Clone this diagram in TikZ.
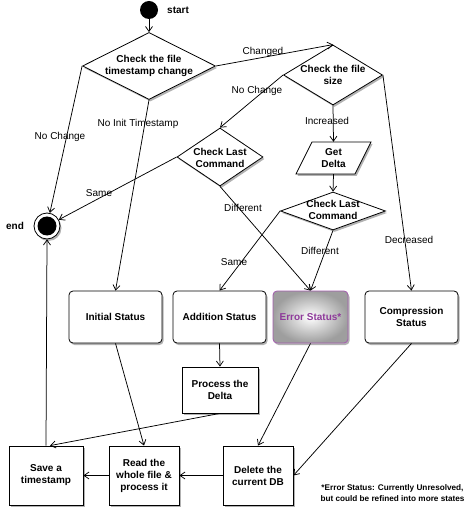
\documentclass[tikz,border=0pt]{standalone}
\usepackage{fontspec}
\setmainfont{Liberation Sans}
\usetikzlibrary{shapes.geometric,arrows.meta,shadows}
\definecolor{errline}{HTML}{A35BAE}
\definecolor{errtext}{HTML}{8E3A9A}
\begin{document}
\begin{tikzpicture}[x=1pt,y=-1pt,
  every node/.style={font=\fontsize{10}{12}\selectfont},
  lbl/.style={inner sep=0pt},
  bold/.style={font=\fontsize{10}{12}\selectfont\bfseries, align=center, inner sep=0pt},
  shd/.style={drop shadow={shadow xshift=1.5pt,shadow yshift=-2pt,opacity=0.3,fill=black}},
  dia/.style={diamond, draw, fill=white, inner sep=0pt, shd, line width=0.8pt},
  sbox/.style={rectangle, rounded corners=4pt, draw, fill=white, minimum width=93pt, minimum height=52pt, inner sep=0pt, shd, line width=0.8pt, font=\fontsize{10}{12}\selectfont\bfseries, align=center},
  abox/.style={rectangle, draw, fill=white, inner sep=0pt, shd, line width=0.8pt, font=\fontsize{10}{12}\selectfont\bfseries, align=center},
  arr/.style={draw, line width=0.75pt, -{Straight Barb[length=5pt,width=7pt]}}
]
\useasboundingbox (0,0) rectangle (474,518);

% start / end
\node[circle, fill=black, minimum size=18pt, inner sep=0pt] (start) at (149,10) {};
\node[bold, anchor=west] (startl) at (167,10) {start};
\node[circle, draw, line width=0.8pt, fill=white, minimum size=26pt, inner sep=0pt, shd] (end) at (47,226) {};
\node[circle, fill=black, minimum size=19pt, inner sep=0pt] (endin) at (47,226) {};
\node[bold] (endl) at (15,226) {end};

% decisions
\node[dia, minimum width=133pt, minimum height=67pt] (d1) at (149,66) {};
\node[bold] (d1t) at (149,66) {Check the file\\timestamp change};
\node[dia, minimum width=99pt, minimum height=60pt] (d2) at (333,75) {};
\node[bold] (d2t) at (333,75) {Check the file\\size};
\node[dia, minimum width=86pt, minimum height=58pt] (d3) at (220,157) {};
\node[bold] (d3t) at (220,158) {Check Last\\Command};
\node[dia, minimum width=105pt, minimum height=38pt] (d4) at (333,211) {};
\node[bold] (d4t) at (333,210) {Check Last\\Command};

% Get Delta parallelogram
\draw[shd, fill=white, line width=0.8pt] (312,142) -- (371,142) -- (355,174) -- (296,174) -- cycle;
\node[bold, minimum width=59pt, minimum height=32pt] (gd) at (333.5,158) {Get\\Delta};

% states
\node[sbox] (init) at (115.5,317) {Initial Status};
\node[sbox] (add) at (219.5,317) {Addition Status};
\node[sbox, minimum width=75pt, draw=errline, shading=radial, inner color=white, outer color=black!38, text=errtext] (err) at (310.5,317) {Error Status*};
\node[sbox] (comp) at (411.5,317) {Compression\\Status};
\node[abox, minimum width=76pt, minimum height=46pt] (proc) at (220,390) {Process the\\Delta};
\node[abox, minimum width=74pt, minimum height=59pt] (save) at (46,475.5) {Save a\\timestamp};
\node[abox, minimum width=70pt, minimum height=59pt] (read) at (144,475.5) {Read the\\whole file \&\\process it};
\node[abox, minimum width=70pt, minimum height=59pt] (del) at (258,475.5) {Delete the\\current DB};

% connectors
\draw[arr] (start) -- (d1.north);
\draw[arr] (d1.east) -- (d2.north);
\draw[arr] (d1.west) -- (end);
\draw[arr] (d1.south) -- (init.north);
\draw[arr] (d2.west) -- (d3.north);
\draw[arr] (d2.south) -- (gd.north);
\draw[arr] (d2.east) -- (comp.north);
\draw[arr] (gd.south) -- (d4.north);
\draw[arr] (d3.west) -- (end);
\draw[arr] (d3.south) -- (err.north);
\draw[arr] (d4.west) -- (add.north);
\draw[arr] (d4.south) -- (err.north);
\draw[arr] (add.south) -- (proc.north);
\draw[arr] (proc.south) -- ([xshift=4pt]save.north);
\draw[arr] (init.south) -- (read.north);
\draw[arr] (err.south) -- (del.north);
\draw[arr] (comp.south) -- (del.east);
\draw[arr] (del.west) -- (read.east);
\draw[arr] (read.west) -- (save.east);
\draw[arr] (save.north) -- (end.south);

% labels
\node[lbl] (lchanged) at (263,52) {Changed};
\node[lbl] (lnochg2) at (257,91) {No Change};
\node[lbl] (lnochg1) at (60,137) {No Change};
\node[lbl] (lnoinit) at (138,124) {No Init Timestamp};
\node[lbl] (lincr) at (327,121) {Increased};
\node[lbl] (lsame1) at (99,193) {Same};
\node[lbl] (ldiff1) at (243,208) {Different};
\node[lbl] (ldiff2) at (320,251) {Different};
\node[lbl] (lsame2) at (234,262) {Same};
\node[lbl] (ldecr) at (409,240) {Decreased};

% note
\node[font=\fontsize{8.2}{11}\selectfont\bfseries, align=center, inner sep=0pt] (note) at (392.5,493.5) {*Error Status: Currently Unresolved,\\but could be refined into more states};
\end{tikzpicture}
\end{document}
